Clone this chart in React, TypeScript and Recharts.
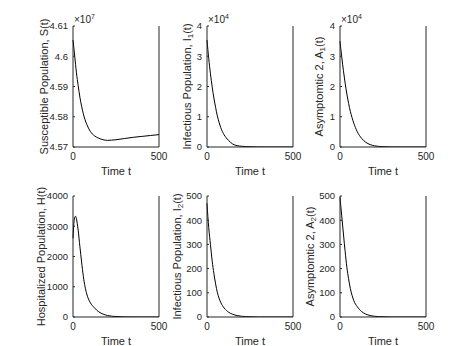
import { LineChart, Line, XAxis, YAxis } from "recharts";

// time grid (days) shared by all six panels
const time = [0, 5, 10, 15, 20, 25, 30, 40, 50, 60, 70, 80, 100, 125, 150, 175, 200, 250, 300, 350, 400, 450, 500];

const susceptible = [
  46054000, 46027000, 46000000, 45972000, 45945000, 45923000, 45903000, 45865000, 45835000, 45810000, 45790000,
  45775000, 45752000, 45737000, 45729000, 45724000, 45722000, 45724000, 45728000, 45732000, 45735000, 45738000, 45741000,
];
const infectious1 = [
  35400, 32200, 29300, 26700, 24200, 22000, 19900, 16200, 13100, 10300, 8200, 6400, 4000, 2200, 950, 450, 250, 80, 20, 5, 0, 0, 0,
];
const asymptomatic1 = [
  35000, 32300, 29800, 27400, 25200, 23100, 21100, 17500, 14400, 11800, 9700, 7900, 5100, 2900, 1550, 800, 400, 100, 25, 6, 0, 0, 0,
];
const hospitalized = [
  2600, 3100, 3300, 3330, 3250, 3080, 2870, 2330, 1820, 1350, 1000, 760, 480, 300, 170, 95, 50, 15, 4, 1, 0, 0, 0,
];
const infectious2 = [470, 415, 370, 333, 300, 265, 232, 180, 137, 102, 78, 60, 37, 20, 11, 6, 3, 1, 0, 0, 0, 0, 0];
const asymptomatic2 = [495, 455, 418, 380, 343, 305, 270, 205, 158, 118, 90, 68, 43, 23, 12, 6, 3, 1, 0, 0, 0, 0, 0];

const timeTicks = [0, 500];
const sTicks = [45700000, 45800000, 45900000, 46000000, 46100000];
const e4Ticks = [0, 10000, 20000, 30000, 40000];
const hTicks = [0, 1000, 2000, 3000, 4000];
const smallTicks = [0, 100, 200, 300, 400, 500];

const INK = "#262626";
const FONT = "'Liberation Sans', Arial, Helvetica, sans-serif";
const PLOT_W = 86;
const PLOT_H = 121;
const AXIS_W = 60;
const TOP = 26;
const RIGHT = 13;

type Part = { text: string; sub?: boolean };

type PanelProps = {
  x: number;
  y: number;
  values: number[];
  ticks: number[];
  scale: number;
  exponent?: string;
  title: Part[];
  titleGap: number;
};

function Panel({ x, y, values, ticks, scale, exponent, title, titleGap }: PanelProps) {
  const data = time.map((t, i) => ({ t, v: values[i] }));
  const domain = [ticks[0], ticks[ticks.length - 1]];
  const fmt = (v: number) => String(+(v / scale).toFixed(2));

  const yTitle = (p: any) => {
    const vb = p.viewBox;
    const px = vb.x + vb.width;
    const cx = px - titleGap;
    const cy = vb.y + vb.height / 2;
    let down = false;
    return (
      <g>
        <text
          x={cx}
          y={cy}
          transform={`rotate(-90 ${cx} ${cy})`}
          textAnchor="middle"
          dominantBaseline="central"
          fontSize={11}
          fontFamily={FONT}
          fill={INK}
        >
          {title.map((part, i) => {
            const dy = part.sub ? 3 : down ? -3 : 0;
            down = !!part.sub;
            return (
              <tspan key={i} dy={dy} fontSize={part.sub ? 8 : 11}>
                {part.text}
              </tspan>
            );
          })}
        </text>
        {exponent && (
          <text x={px + 1} y={vb.y - 3} fontSize={10} fontFamily={FONT} fill={INK}>
            ×10
            <tspan fontSize={7} dy={-4}>
              {exponent}
            </tspan>
          </text>
        )}
      </g>
    );
  };

  const xTitle = (p: any) => {
    const vb = p.viewBox;
    return (
      <text
        x={vb.x + vb.width / 2}
        y={vb.y + 24}
        textAnchor="middle"
        dominantBaseline="central"
        fontSize={11}
        fontFamily={FONT}
        fill={INK}
      >
        Time t
      </text>
    );
  };

  return (
    <div style={{ position: "absolute", left: x - AXIS_W, top: y - TOP }}>
      <LineChart
        width={AXIS_W + PLOT_W + 1 + RIGHT}
        height={TOP + PLOT_H + 36}
        data={data}
        margin={{ top: TOP, right: RIGHT, bottom: 0, left: 0 }}
      >
        <XAxis
          xAxisId="b"
          dataKey="t"
          type="number"
          domain={[0, 500]}
          ticks={timeTicks}
          interval={0}
          stroke={INK}
          tickLine={false}
          tickSize={6}
          tickMargin={0}
          height={36}
          tick={{ fontSize: 10, fill: INK, fontFamily: FONT }}
          label={xTitle}
        />
        <XAxis xAxisId="t" dataKey="t" type="number" domain={[0, 500]} orientation="top" height={0} tick={false} tickLine={false} stroke={INK} />
        <YAxis
          yAxisId="l"
          type="number"
          domain={domain}
          ticks={ticks}
          interval={0}
          allowDataOverflow
          width={AXIS_W}
          stroke={INK}
          tickSize={-2}
          tickMargin={7}
          tickFormatter={fmt}
          tick={{ fontSize: 9.5, fill: INK, fontFamily: FONT }}
          label={yTitle}
        />
        <YAxis
          yAxisId="r"
          orientation="right"
          type="number"
          domain={domain}
          ticks={ticks}
          interval={0}
          allowDataOverflow
          width={1}
          stroke={INK}
          tickSize={-2}
          tick={false}
        />
        <Line
          xAxisId="b"
          yAxisId="l"
          type="monotone"
          dataKey="v"
          stroke="#000"
          strokeWidth={1}
          dot={false}
          isAnimationActive={false}
        />
      </LineChart>
    </div>
  );
}

const COLS = [73, 207, 340];
const ROWS = [26, 196];

export default function App() {
  return (
    <div
      style={{
        position: "absolute",
        left: 0,
        top: 0,
        width: 474,
        height: 346,
        overflow: "hidden",
        background: "#fff",
      }}
    >
      <Panel
        x={COLS[0]}
        y={ROWS[0]}
        values={susceptible}
        ticks={sTicks}
        scale={1e7}
        exponent="7"
        title={[{ text: "Susceptible Population, S(t)" }]}
        titleGap={29}
      />
      <Panel
        x={COLS[1]}
        y={ROWS[0]}
        values={infectious1}
        ticks={e4Ticks}
        scale={1e4}
        exponent="4"
        title={[{ text: "Infectious Population, I" }, { text: "1", sub: true }, { text: "(t)" }]}
        titleGap={20}
      />
      <Panel
        x={COLS[2]}
        y={ROWS[0]}
        values={asymptomatic1}
        ticks={e4Ticks}
        scale={1e4}
        exponent="4"
        title={[{ text: "Asymptomtic 2, A" }, { text: "1", sub: true }, { text: "(t)" }]}
        titleGap={21}
      />
      <Panel
        x={COLS[0]}
        y={ROWS[1]}
        values={hospitalized}
        ticks={hTicks}
        scale={1}
        title={[{ text: "Hospitalized Population, H(t)" }]}
        titleGap={32}
      />
      <Panel
        x={COLS[1]}
        y={ROWS[1]}
        values={infectious2}
        ticks={smallTicks}
        scale={1}
        title={[{ text: "Infectious Population, I" }, { text: "2", sub: true }, { text: "(t)" }]}
        titleGap={30}
      />
      <Panel
        x={COLS[2]}
        y={ROWS[1]}
        values={asymptomatic2}
        ticks={smallTicks}
        scale={1}
        title={[{ text: "Asymptomtic 2, A" }, { text: "2", sub: true }, { text: "(t)" }]}
        titleGap={30}
      />
    </div>
  );
}
